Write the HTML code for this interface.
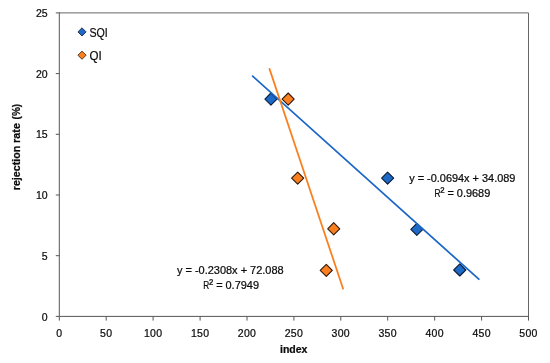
<!DOCTYPE html><html><head><meta charset="utf-8"><title>chart</title><style>html,body{margin:0;padding:0;background:#fff}svg{display:block}text{font-family:"Liberation Sans",sans-serif;fill:#0a0a0a;stroke:#0a0a0a;stroke-width:0.22px;paint-order:stroke}</style></head><body>
<svg width="550" height="363" viewBox="0 0 550 363">
<rect width="550" height="363" fill="#fff"/>
<path d="M59.3 12.9H528.5V316.4" fill="none" stroke="#666" stroke-width="1"/>
<path d="M59.3 12.4V316.4H529.0" fill="none" stroke="#565656" stroke-width="1"/>
<line x1="59.3" y1="316.4" x2="59.3" y2="320.6" stroke="#565656" stroke-width="1"/>
<text x="59.3" y="336.6" font-size="10.5" letter-spacing="0.3" text-anchor="middle">0</text>
<line x1="106.2" y1="316.4" x2="106.2" y2="320.6" stroke="#565656" stroke-width="1"/>
<text x="106.2" y="336.6" font-size="10.5" letter-spacing="0.3" text-anchor="middle">50</text>
<line x1="153.1" y1="316.4" x2="153.1" y2="320.6" stroke="#565656" stroke-width="1"/>
<text x="153.1" y="336.6" font-size="10.5" letter-spacing="0.3" text-anchor="middle">100</text>
<line x1="200.1" y1="316.4" x2="200.1" y2="320.6" stroke="#565656" stroke-width="1"/>
<text x="200.1" y="336.6" font-size="10.5" letter-spacing="0.3" text-anchor="middle">150</text>
<line x1="247.0" y1="316.4" x2="247.0" y2="320.6" stroke="#565656" stroke-width="1"/>
<text x="247.0" y="336.6" font-size="10.5" letter-spacing="0.3" text-anchor="middle">200</text>
<line x1="293.9" y1="316.4" x2="293.9" y2="320.6" stroke="#565656" stroke-width="1"/>
<text x="293.9" y="336.6" font-size="10.5" letter-spacing="0.3" text-anchor="middle">250</text>
<line x1="340.8" y1="316.4" x2="340.8" y2="320.6" stroke="#565656" stroke-width="1"/>
<text x="340.8" y="336.6" font-size="10.5" letter-spacing="0.3" text-anchor="middle">300</text>
<line x1="387.7" y1="316.4" x2="387.7" y2="320.6" stroke="#565656" stroke-width="1"/>
<text x="387.7" y="336.6" font-size="10.5" letter-spacing="0.3" text-anchor="middle">350</text>
<line x1="434.7" y1="316.4" x2="434.7" y2="320.6" stroke="#565656" stroke-width="1"/>
<text x="434.7" y="336.6" font-size="10.5" letter-spacing="0.3" text-anchor="middle">400</text>
<line x1="481.6" y1="316.4" x2="481.6" y2="320.6" stroke="#565656" stroke-width="1"/>
<text x="481.6" y="336.6" font-size="10.5" letter-spacing="0.3" text-anchor="middle">450</text>
<line x1="528.5" y1="316.4" x2="528.5" y2="320.6" stroke="#565656" stroke-width="1"/>
<text x="528.5" y="336.6" font-size="10.5" letter-spacing="0.3" text-anchor="middle">500</text>
<line x1="55.8" y1="316.4" x2="59.3" y2="316.4" stroke="#565656" stroke-width="1"/>
<text x="47.6" y="320.5" font-size="10.5" text-anchor="end">0</text>
<line x1="55.8" y1="255.7" x2="59.3" y2="255.7" stroke="#565656" stroke-width="1"/>
<text x="47.6" y="259.8" font-size="10.5" text-anchor="end">5</text>
<line x1="55.8" y1="195.0" x2="59.3" y2="195.0" stroke="#565656" stroke-width="1"/>
<text x="47.6" y="199.1" font-size="10.5" text-anchor="end">10</text>
<line x1="55.8" y1="134.3" x2="59.3" y2="134.3" stroke="#565656" stroke-width="1"/>
<text x="47.6" y="138.4" font-size="10.5" text-anchor="end">15</text>
<line x1="55.8" y1="73.6" x2="59.3" y2="73.6" stroke="#565656" stroke-width="1"/>
<text x="47.6" y="77.7" font-size="10.5" text-anchor="end">20</text>
<line x1="55.8" y1="12.9" x2="59.3" y2="12.9" stroke="#565656" stroke-width="1"/>
<text x="47.6" y="17.0" font-size="10.5" text-anchor="end">25</text>
<path d="M270.9 93.0L277.0 99.1L270.9 105.1L264.9 99.1Z" fill="#1d6ac6" stroke="#0c1c36" stroke-width="1.1" stroke-linejoin="round"/>
<path d="M387.6 172.1L393.7 178.1L387.6 184.2L381.6 178.1Z" fill="#1d6ac6" stroke="#0c1c36" stroke-width="1.1" stroke-linejoin="round"/>
<path d="M416.8 223.3L422.9 229.4L416.8 235.4L410.8 229.4Z" fill="#1d6ac6" stroke="#0c1c36" stroke-width="1.1" stroke-linejoin="round"/>
<path d="M459.8 263.9L465.8 270.0L459.8 276.0L453.7 270.0Z" fill="#1d6ac6" stroke="#0c1c36" stroke-width="1.1" stroke-linejoin="round"/>
<path d="M288.2 93.0L294.2 99.1L288.2 105.1L282.1 99.1Z" fill="#f97f1f" stroke="#30190a" stroke-width="1.1" stroke-linejoin="round"/>
<path d="M297.7 172.1L303.7 178.1L297.7 184.2L291.6 178.1Z" fill="#f97f1f" stroke="#30190a" stroke-width="1.1" stroke-linejoin="round"/>
<path d="M333.7 222.7L339.8 228.8L333.7 234.8L327.7 228.8Z" fill="#f97f1f" stroke="#30190a" stroke-width="1.1" stroke-linejoin="round"/>
<path d="M326.3 264.3L332.3 270.4L326.3 276.4L320.2 270.4Z" fill="#f97f1f" stroke="#30190a" stroke-width="1.1" stroke-linejoin="round"/>
<line x1="252.6" y1="76.1" x2="478.8" y2="279.2" stroke="#1d68c6" stroke-width="1.75" stroke-linecap="round"/>
<line x1="269.5" y1="68.9" x2="343.1" y2="288.7" stroke="#f97f1f" stroke-width="1.75" stroke-linecap="round"/>
<path d="M82.0 27.8L86.1 31.9L82.0 36.0L77.9 31.9Z" fill="#1d6ac6" stroke="#0c1c36" stroke-width="0.8" stroke-linejoin="round"/>
<path d="M82.0 51.1L86.1 55.2L82.0 59.3L77.9 55.2Z" fill="#f97f1f" stroke="#30190a" stroke-width="0.8" stroke-linejoin="round"/>
<text x="89.5" y="36.6" font-size="12.0" textLength="18.3" lengthAdjust="spacingAndGlyphs">SQI</text>
<text x="89.5" y="59.7" font-size="12.0" textLength="12.2" lengthAdjust="spacingAndGlyphs">QI</text>
<text x="462.3" y="182" font-size="10.4" text-anchor="middle" textLength="106.2" lengthAdjust="spacingAndGlyphs">y = -0.0694x + 34.089</text>
<text y="197.0" font-size="10.4"><tspan x="434.5" textLength="6.0" lengthAdjust="spacingAndGlyphs">R</tspan><tspan x="440.3" dy="-1.2" font-size="13" textLength="4.2" lengthAdjust="spacingAndGlyphs">²</tspan> <tspan x="447.5" dy="1.2" textLength="6.4" lengthAdjust="spacingAndGlyphs">=</tspan> <tspan x="456.8" textLength="33.5" lengthAdjust="spacingAndGlyphs">0.9689</tspan></text>
<text x="230.3" y="274.4" font-size="10.4" text-anchor="middle" textLength="106.8" lengthAdjust="spacingAndGlyphs">y = -0.2308x + 72.088</text>
<text y="289.1" font-size="10.4"><tspan x="203.2" textLength="6.0" lengthAdjust="spacingAndGlyphs">R</tspan><tspan x="209.0" dy="-1.2" font-size="13" textLength="4.2" lengthAdjust="spacingAndGlyphs">²</tspan> <tspan x="216.2" dy="1.2" textLength="6.4" lengthAdjust="spacingAndGlyphs">=</tspan> <tspan x="225.5" textLength="33.5" lengthAdjust="spacingAndGlyphs">0.7949</tspan></text>
<text x="293.7" y="352.7" font-size="10.5" font-weight="bold" text-anchor="middle">index</text>
<text transform="translate(19.5,190.2) rotate(-90)" font-size="10.4" font-weight="bold"><tspan x="0" textLength="44.4" lengthAdjust="spacingAndGlyphs">rejection</tspan> <tspan x="47.3" textLength="19.8" lengthAdjust="spacingAndGlyphs">rate</tspan> <tspan x="70.8" textLength="15.6" lengthAdjust="spacingAndGlyphs">(%)</tspan></text>
</svg></body></html>
